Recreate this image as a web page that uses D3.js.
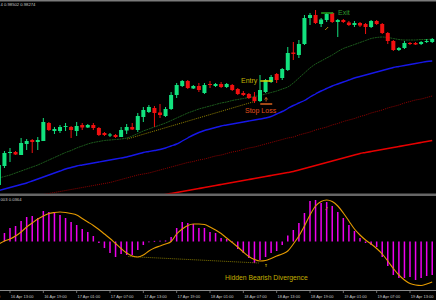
<!DOCTYPE html>
<html>
<head>
<meta charset="utf-8">
<script src="https://cdn.jsdelivr.net/npm/d3@7"></script>
<style>
  html, body { margin: 0; background: #000; }
  svg { display: block; }
</style>
</head>
<body>
<svg id="chart" width="436" height="300"></svg>
<script>
// H1 bars, first visible bar 16 Apr 11:00
const startTime = Date.UTC(2019, 3, 16, 11);

const opens = [0.9707,0.9726,0.9739,0.9740,0.9737,0.9748,0.9752,0.9750,0.9751,0.9769,
  0.9761,0.9761,0.9765,0.9765,0.9761,0.9767,0.97645,0.9767,0.9764,0.9759,
  0.97565,0.9757,0.9755,0.97615,0.9765,0.9762,0.9775,0.9780,0.9784,0.97795,
  0.9776,0.9783,0.9797,0.9806,0.9811,0.98035,0.9806,0.9799,0.9808,0.9806,
  0.9808,0.9805,0.9807,0.9803,0.9799,0.9798,0.9795,0.9791,0.9800,0.9810,
  0.9818,0.9814,0.9822,0.98395,0.9837,0.9848,0.9874,0.9877,0.9868,0.9872,
  0.9879,0.9870,0.9872,0.98695,0.9867,0.9869,0.9868,0.9865,0.9871,0.9868,
  0.9859,0.9851,0.9842,0.9844,0.9849,0.9849,0.9848,0.9850,0.9850];
const highs = [0.9729,0.9741,0.9744,0.9741,0.9754,0.9753,0.9753,0.9755,0.9774,0.9770,
  0.9765,0.9767,0.9769,0.9766,0.9770,0.9769,0.9768,0.9769,0.9765,0.9760,
  0.9759,0.9758,0.9765,0.9768,0.9769,0.9779,0.9785,0.9787,0.9786,0.9788,
  0.9785,0.9800,0.9809,0.9812,0.9812,0.9807,0.9809,0.9809,0.9811,0.9809,
  0.9810,0.9809,0.9808,0.9804,0.9801,0.9799,0.9800,0.9817,0.9813,0.9817,
  0.9819,0.9824,0.9845,0.9850,0.9852,0.9877,0.9879,0.9882,0.9874,0.9879,
  0.9880,0.9873,0.9873,0.9871,0.9871,0.9870,0.9869,0.9872,0.9872,0.9869,
  0.9860,0.9852,0.9845,0.9851,0.9850,0.9850,0.9851,0.9853,0.9854];
const lows = [0.9705,0.9724,0.9730,0.9737,0.9737,0.9742,0.9739,0.9742,0.9751,0.9761,
  0.9758,0.9759,0.9761,0.9754,0.9756,0.9762,0.9764,0.9762,0.9756,0.9756,
  0.9755,0.9754,0.9755,0.9758,0.9762,0.9760,0.9770,0.9779,0.9765,0.9774,
  0.9775,0.9782,0.9794,0.9805,0.9803,0.9803,0.9800,0.9798,0.9804,0.9805,
  0.9804,0.9804,0.9801,0.9797,0.9796,0.9793,0.9789,0.9790,0.9799,0.9809,
  0.9809,0.9812,0.9821,0.9832,0.9834,0.9847,0.9867,0.9868,0.9865,0.9870,
  0.9869,0.9855,0.9869,0.9866,0.9865,0.9865,0.9858,0.9864,0.9867,0.9858,
  0.9848,0.9841,0.9841,0.9843,0.9847,0.9847,0.9847,0.9849,0.9849];
const closes = [0.9727,0.9739,0.9740,0.97375,0.9749,0.9751,0.9750,0.9752,0.9770,0.9762,
  0.9763,0.9765,0.9766,0.9762,0.9766,0.97645,0.9767,0.9764,0.9757,0.9757,
  0.97575,0.9755,0.9762,0.9765,0.97625,0.9776,0.9782,0.9785,0.9779,0.9777,
  0.9783,0.9797,0.9807,0.9811,0.9804,0.9806,0.9802,0.9807,0.9807,0.9808,
  0.9805,0.9808,0.9802,0.9798,0.9797,0.9794,0.9791,0.9802,0.9812,0.9815,
  0.9812,0.9823,0.9839,0.9838,0.9848,0.9874,0.9877,0.9869,0.98725,0.9878,
  0.9870,0.9872,0.9870,0.9867,0.9869,0.98665,0.9865,0.9871,0.9868,0.9859,
  0.9851,0.9842,0.9844,0.9849,0.9848,0.98475,0.9850,0.9851,0.9853];

// moving averages
const maFast = [0.9714,0.97155,0.9717,0.9719,0.9721,0.9723,0.9725,0.9727,0.97295,0.9732,
  0.97345,0.9737,0.97395,0.97415,0.9744,0.9746,0.9748,0.97495,0.97505,0.97515,
  0.9752,0.97525,0.9753,0.9754,0.9756,0.97585,0.9761,0.9763,0.9765,0.9767,
  0.9769,0.97715,0.9774,0.97765,0.9779,0.9781,0.9783,0.97845,0.9786,0.97875,
  0.9789,0.9790,0.97915,0.97925,0.97935,0.97945,0.97955,0.97965,0.9798,0.97995,
  0.9801,0.9803,0.9805,0.9809,0.9814,0.9819,0.9824,0.9828,0.9831,0.9834,
  0.9837,0.98405,0.98435,0.98455,0.98475,0.98495,0.98515,0.98535,0.98545,0.9855,
  0.98545,0.98535,0.98525,0.9852,0.9852,0.9852,0.98525,0.98525,0.9853];
const maMid = [0.97015,0.9703,0.97045,0.9706,0.97075,0.9709,0.9711,0.9713,0.9715,0.9717,
  0.9719,0.9721,0.9723,0.97245,0.9726,0.9727,0.9728,0.9729,0.9730,0.9731,
  0.9732,0.9733,0.9734,0.9735,0.97365,0.9738,0.97395,0.97405,0.97415,0.97425,
  0.9744,0.9746,0.9748,0.9751,0.9754,0.9757,0.97595,0.97615,0.9763,0.97645,
  0.9766,0.9767,0.9768,0.9769,0.9770,0.9771,0.9772,0.9773,0.9774,0.97755,
  0.9778,0.97805,0.97835,0.97865,0.9789,0.97915,0.9795,0.9798,0.9801,0.98035,
  0.9806,0.9808,0.9810,0.9812,0.9814,0.98155,0.9817,0.98185,0.9820,0.98215,
  0.9823,0.98245,0.98255,0.98265,0.98275,0.98285,0.98295,0.98305,0.9831];
const maSlowDot = [null,null,null,null,null,null,0.9695,0.9696,0.96975,0.96985,
  0.96995,0.97005,0.97015,0.97025,0.97035,0.97045,0.97055,0.97065,0.97075,0.97085,
  0.97095,0.9711,0.97125,0.9714,0.97155,0.9717,0.9718,0.9719,0.97205,0.9722,
  0.97235,0.9725,0.97265,0.9728,0.97295,0.97305,0.9732,0.9733,0.97345,0.9736,
  0.9737,0.97385,0.9740,0.9741,0.97425,0.9744,0.9745,0.97465,0.9748,0.97495,
  0.9751,0.97525,0.9754,0.9755,0.9757,0.97585,0.9760,0.9762,0.97635,0.9765,
  0.9767,0.97685,0.97705,0.9772,0.97735,0.97755,0.9777,0.9779,0.97805,0.9782,
  0.9784,0.97855,0.9787,0.9789,0.97905,0.9792,0.9793,0.97945,0.9796];
const maSlow = [null,null,null,null,null,null,null,null,null,null,
  null,null,null,null,null,null,null,null,null,null,
  null,null,null,null,null,null,null,0.9695,0.96955,0.96965,
  0.96975,0.96985,0.96995,0.97005,0.97015,0.97025,0.97035,0.97045,0.97055,0.97065,
  0.97075,0.97085,0.97095,0.97105,0.97115,0.97125,0.97135,0.97145,0.97155,0.97165,
  0.97175,0.97185,0.97195,0.97205,0.9722,0.97235,0.9725,0.97265,0.9728,0.97295,
  0.9731,0.97325,0.9734,0.97355,0.9737,0.97385,0.97395,0.97405,0.97415,0.97425,
  0.97435,0.97445,0.97455,0.97465,0.97475,0.97485,0.97495,0.97505,0.97515];

// oscillator (points)
const histPts = [5,8.5,13.5,15.5,20.5,24.5,25.5,23.5,30.5,29.5,
  28.5,26.5,23.5,19.5,16.5,12.5,9.5,5.5,-1.5,-6.5,
  -11.5,-15.5,-12.5,-13.5,-13.5,-8.5,-3.5,-0.8,0.6,0.8,
  1,4.5,13.5,19.5,18.5,17.5,13.5,13.5,9.5,8.5,
  3.5,2.5,-0.8,-7.5,-11.5,-16.5,-21.5,-18.5,-15.5,-11.5,
  -9.5,-3.5,6,11.5,18.5,28.5,40.5,41.5,38.5,39.5,
  35.5,29.5,23.5,16.5,10.5,3.5,-1.5,-3.5,-5.5,-15.5,
  -24.5,-33.5,-36.5,-36.5,-35.5,-38.5,-36.5,-34.5,-33.5];
const signalPts = [-2.5,0.5,2.5,5.5,9.5,14.5,18.5,22.5,25.5,28,
  29,29.5,29,28,26.5,23,19.5,16,12,7.5,
  3,-2,-7,-11.5,-14.5,-15.5,-13.5,-9.5,-6.5,-4.5,
  -2.5,0,7.5,12.5,16,17.5,17.5,17,14.5,11.5,
  8,3.5,-1,-5.5,-10.5,-15,-18,-19.5,-19,-17,
  -14.5,-12.5,-9.5,-2.5,5.5,15.5,26.5,35.5,40,41.5,
  40,35.5,28.5,20.5,12.5,6.5,1.5,-2.5,-7,-12.5,
  -19.5,-27,-33.5,-38.5,-42,-43.5,-44,-42.5,-40.5];

const tickTimes = ["2019-04-16T07:00Z","2019-04-16T13:00Z","2019-04-16T19:00Z","2019-04-17T01:00Z",
  "2019-04-17T07:00Z","2019-04-17T13:00Z","2019-04-17T19:00Z","2019-04-18T01:00Z",
  "2019-04-18T07:00Z","2019-04-18T13:00Z","2019-04-18T19:00Z","2019-04-19T01:00Z",
  "2019-04-19T07:00Z","2019-04-19T13:00Z"];

// annotations: [bar index, price]
const entryLine = [[47.05, 0.9811], [49.2, 0.9811]];
const stopLine = [[47.05, 0.9788], [49.2, 0.9788]];
const exitLine = [[58.0, 0.9879], [60.2, 0.9879]];
const priceTrend = [[23.1, 0.9753], [46.3, 0.9791]];
const oscTrend = [[23.3, -15], [46.8, -21.5]];

const svg = d3.select("#chart");
const W = 436;
const mainTop = 1.5, mainBottom = 193.5;
const oscTop = 196, oscBottom = 290;

svg.append("rect").attr("width", W).attr("height", 300).attr("fill", "#000");

const x = d3.scaleUtc()
  .domain([new Date(Date.UTC(2019, 3, 16, 13)), new Date(Date.UTC(2019, 3, 19, 13))])
  .range([10, 410]);
const barX = i => x(new Date(startTime + i * 3600e3));

const y = d3.scaleLinear().domain([0.96985, 0.98905]).range([mainBottom, mainTop]);
const yo = d3.scaleLinear().domain([-48.5, 45.5]).range([oscBottom, oscTop]);

const defs = svg.append("defs");
defs.append("clipPath").attr("id", "clipMain").append("rect")
  .attr("x", 0).attr("y", mainTop).attr("width", W).attr("height", mainBottom - mainTop);
defs.append("clipPath").attr("id", "clipOsc").append("rect")
  .attr("x", 0).attr("y", oscTop).attr("width", W).attr("height", oscBottom - oscTop);

// frame lines
svg.append("rect").attr("x", 0).attr("y", 0).attr("width", W).attr("height", 1.5).attr("fill", "#7a7a7a");
svg.append("rect").attr("x", 0).attr("y", mainBottom).attr("width", W).attr("height", 2.5).attr("fill", "#666");
svg.append("rect").attr("x", 0).attr("y", oscBottom).attr("width", W).attr("height", 1).attr("fill", "#8a8a8a");

const main = svg.append("g").attr("clip-path", "url(#clipMain)");
const idx = d3.range(opens.length);

function maLine(values, color, width, dash) {
  const line = d3.line()
    .defined(d => values[d] != null)
    .x(d => barX(d))
    .y(d => y(values[d]))
    .curve(d3.curveMonotoneX);
  main.append("path").attr("d", line(idx))
    .attr("fill", "none").attr("stroke", color).attr("stroke-width", width)
    .attr("stroke-dasharray", dash || null);
}
maLine(maSlow, "#e60000", 1.6);
maLine(maSlowDot, "#900000", 1, "1,1");
maLine(maMid, "#1717e8", 1.4);
maLine(maFast, "#1c5a1c", 1, "2,0.6");

// dotted trendline on price
main.append("path")
  .attr("d", d3.line().x(d => barX(d[0])).y(d => y(d[1]))(priceTrend))
  .attr("fill", "none").attr("stroke", "#a09000").attr("stroke-width", 0.9).attr("stroke-dasharray", "1,1");

// candles
const bull = "#12e27e", bear = "#f01010";
const candles = main.append("g").selectAll("g").data(idx).join("g");
candles.append("line")
  .attr("x1", i => barX(i)).attr("x2", i => barX(i))
  .attr("y1", i => y(highs[i])).attr("y2", i => y(lows[i]))
  .attr("stroke", i => closes[i] >= opens[i] ? bull : bear).attr("stroke-width", 1);
candles.append("rect")
  .attr("x", i => barX(i) - 2).attr("width", 4)
  .attr("y", i => y(Math.max(opens[i], closes[i])))
  .attr("height", i => Math.max(1, Math.abs(y(opens[i]) - y(closes[i]))))
  .attr("fill", i => closes[i] >= opens[i] ? bull : bear);

// trade annotations
const seg = d3.line().x(d => barX(d[0])).y(d => y(d[1]));
main.append("path").attr("d", seg(entryLine)).attr("stroke", "#d4cc00").attr("stroke-width", 1.3);
main.append("path").attr("d", seg(stopLine)).attr("stroke", "#d8621c").attr("stroke-width", 1.3);
main.append("path").attr("d", seg(exitLine)).attr("stroke", "#1fa51f").attr("stroke-width", 1.3);

// small arrows
const slX = barX(48.1), slY = y(0.9792);
main.append("path")
  .attr("d", `M${slX},${slY - 2.5}L${slX - 1.5},${slY - 0.5}M${slX},${slY - 2.5}L${slX + 1.5},${slY - 0.5}M${slX},${slY - 2.5}V${slY + 1.5}`)
  .attr("stroke", "#c8651e").attr("stroke-width", 0.9).attr("fill", "none");
const exX = barX(59.0), exY = y(0.98635);
main.append("path")
  .attr("d", `M${exX - 1.5},${exY + 1.5}L${exX + 1.5},${exY - 1.5}`)
  .attr("stroke", "#b8860b").attr("stroke-width", 1);

const font = "Liberation Sans, Arial, sans-serif";
main.append("text").attr("x", 241).attr("y", 83).text("Entry")
  .attr("font-family", font).attr("font-size", 7).attr("fill", "#c2b400");
main.append("text").attr("x", 245).attr("y", 113).text("Stop Loss")
  .attr("font-family", font).attr("font-size", 7).attr("fill", "#e2501c");
main.append("text").attr("x", 338).attr("y", 15).text("Exit")
  .attr("font-family", font).attr("font-size", 7).attr("fill", "#2f9a2f");

// oscillator
const osc = svg.append("g").attr("clip-path", "url(#clipOsc)");
osc.selectAll("rect.hist").data(idx).join("rect")
  .attr("class", "hist")
  .attr("x", i => barX(i) - 0.75).attr("width", 1.5)
  .attr("y", i => yo(Math.max(0, histPts[i])))
  .attr("height", i => Math.max(0.8, Math.abs(yo(histPts[i]) - yo(0))))
  .attr("fill", "#ee00ee");
osc.append("path")
  .attr("d", d3.line().x(d => barX(d[0])).y(d => yo(d[1]))(oscTrend))
  .attr("fill", "none").attr("stroke", "#8c8000").attr("stroke-width", 0.9).attr("stroke-dasharray", "1,1");
osc.append("path")
  .attr("d", d3.line().x(i => barX(i)).y(i => yo(signalPts[i])).curve(d3.curveMonotoneX)(idx))
  .attr("fill", "none").attr("stroke", "#e49a00").attr("stroke-width", 1.1);
const o1X = barX(48.1), o1Y = yo(-24);
osc.append("path").attr("d", `M${o1X},${o1Y - 1.5}V${o1Y + 1.5}M${o1X - 1},${o1Y - 0.5}L${o1X},${o1Y - 1.5}L${o1X + 1},${o1Y - 0.5}`)
  .attr("stroke", "#9a8a00").attr("stroke-width", 0.8).attr("fill", "none");
const o2X = barX(59.0), o2Y = yo(33);
osc.append("path").attr("d", `M${o2X - 1.2},${o2Y + 1.2}L${o2X + 1.2},${o2Y - 1.2}`)
  .attr("stroke", "#c08a10").attr("stroke-width", 0.9);
osc.append("text").attr("x", 225).attr("y", 279.5).text("Hidden Bearish Divergence")
  .attr("font-family", font).attr("font-size", 6.8).attr("fill", "#c2ad00");

// header texts
svg.append("text").attr("x", 0.5).attr("y", 6).text("4 0.98502 0.98274")
  .attr("font-family", font).attr("font-size", 4.2).attr("fill", "#c8c8c8");
svg.append("text").attr("x", 0.5).attr("y", 200.5).text("003 0.0364")
  .attr("font-family", font).attr("font-size", 4.2).attr("fill", "#c8c8c8");

// time axis
const ticks = tickTimes.map(s => new Date(s));
const fmt = d3.utcFormat("%d %b %H:%M");
const axis = svg.append("g");
axis.selectAll("line").data(ticks).join("line")
  .attr("x1", d => x(d)).attr("x2", d => x(d)).attr("y1", oscBottom + 1).attr("y2", oscBottom + 3)
  .attr("stroke", "#8a8a8a").attr("stroke-width", 0.8);
axis.selectAll("text").data(ticks).join("text")
  .attr("x", d => x(d) + 0.8).attr("y", 297.5)
  .attr("font-family", font).attr("font-size", 4).attr("fill", "#c8c8c8")
  .text(d => fmt(d));
</script>
</body>
</html>
